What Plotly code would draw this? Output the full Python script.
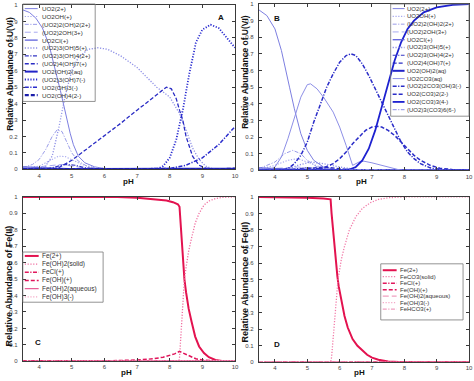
import plotly.graph_objects as go

W, H = 474, 381

# ---------------- data ----------------
ph_ticks = [4, 5, 6, 7, 8, 9, 10]
ph_tick_text = ["4", "5", "6", "7", "8", "9", "10"]
ab_ticks = [0, 0.1, 0.2, 0.3, 0.4, 0.5, 0.6, 0.7, 0.8, 0.9, 1]
ab_tick_text = ["0", "0.1", "0.2", "0.3", "0.4", "0.5", "0.6", "0.7", "0.8", "0.9", "1"]

# Panel A : U(VI), no carbonate
a_names = ["UO2(2+)", "UO2OH(+)", "(UO2)2(OH)2(2+)", "(UO2)2OH(3+)", "UO2Cl(+)",
           "(UO2)3(OH)5(+)", "(UO2)3(OH)4(2+)", "(UO2)4(OH)7(+)", "UO2(OH)2(aq)",
           "(UO2)3(OH)7(-)", "UO2(OH)3(-)", "UO2(OH)4(2-)"]
a_uo2 = ([3.5, 3.7, 3.9, 4.1, 4.3, 4.45, 4.55, 4.65, 4.75, 4.85, 4.95, 5.05, 5.2, 5.4, 5.7, 6.0, 6.5, 10],
         [0.97, 0.955, 0.92, 0.86, 0.76, 0.65, 0.56, 0.48, 0.39, 0.3, 0.22, 0.15, 0.08, 0.04, 0.015, 0.005, 0, 0])
a_uo2oh = ([3.5, 4.0, 4.3, 4.6, 4.8, 5.0, 5.3, 5.7, 6.5, 10],
           [0.005, 0.02, 0.05, 0.08, 0.078, 0.06, 0.03, 0.01, 0, 0])
a_22 = ([3.5, 3.8, 4.0, 4.2, 4.4, 4.55, 4.7, 4.85, 5.0, 5.2, 5.5, 6.0, 10],
        [0.01, 0.03, 0.06, 0.12, 0.2, 0.24, 0.23, 0.17, 0.1, 0.05, 0.015, 0, 0])
a_21 = ([3.5, 4.3, 4.7, 5.0, 5.5, 6.0, 10],
        [0.005, 0.02, 0.03, 0.02, 0.005, 0, 0])
a_cl = ([3.5, 4.0, 4.5, 5.0, 5.5, 10],
        [0.015, 0.012, 0.007, 0.002, 0, 0])
a_35 = ([3.5, 4.0, 4.2, 4.4, 4.6, 4.8, 5.0, 5.2, 5.5, 5.8, 6.1, 6.5, 7.0, 7.6, 8.0, 8.3, 8.5, 8.7, 8.9, 9.1, 9.3, 9.5, 10],
        [0, 0.005, 0.02, 0.08, 0.25, 0.45, 0.6, 0.68, 0.73, 0.74, 0.73, 0.69, 0.62, 0.5, 0.44, 0.34, 0.24, 0.13, 0.06, 0.02, 0.005, 0, 0])
a_34 = ([3.5, 4.2, 4.5, 4.8, 5.1, 5.4, 6.0, 10],
        [0, 0, 0.015, 0.03, 0.025, 0.01, 0, 0])
a_47 = ([3.5, 4.4, 4.6, 4.8, 5.0, 5.2, 5.5, 6.0, 6.5, 7.0, 7.4, 7.7, 7.9, 8.05, 8.2, 8.3, 8.4, 8.5, 8.7, 8.9, 9.1, 9.4, 10],
        [0, 0, 0.01, 0.03, 0.055, 0.085, 0.13, 0.2, 0.28, 0.36, 0.42, 0.47, 0.5, 0.49, 0.43, 0.36, 0.3, 0.2, 0.08, 0.025, 0.008, 0, 0])
a_oh2 = ([3.5, 5.0, 8.0, 10],
         [0, 0.002, 0.004, 0.003])
a_37 = ([3.5, 7.6, 7.8, 8.0, 8.2, 8.4, 8.6, 8.8, 9.0, 9.25, 9.5, 9.75, 10],
        [0, 0, 0.02, 0.07, 0.18, 0.36, 0.58, 0.77, 0.85, 0.88, 0.86, 0.8, 0.74])
a_oh3 = ([3.5, 8.0, 8.5, 9.0, 9.5, 10],
         [0, 0.005, 0.025, 0.07, 0.15, 0.26])
a_oh4 = ([3.5, 9.5, 10],
         [0, 0, 0.005])

# Panel B : U(VI), with carbonate
b_names = ["UO2(2+)", "UO2OH(+)", "(UO2)2(OH)2(2+)", "(UO2)2OH(3+)", "UO2Cl(+)",
           "(UO2)3(OH)5(+)", "(UO2)3(OH)4(2+)", "(UO2)4(OH)7(+)", "UO2(OH)2(aq)",
           "UO2CO3(aq)", "(UO2)2CO3(OH)3(-)", "UO2(CO3)2(2-)", "UO2(CO3)3(4-)",
           "(UO2)3(CO3)6(6-)"]
b_uo2 = ([3.5, 3.75, 4.0, 4.2, 4.45, 4.6, 4.8, 5.0, 5.2, 5.5, 6.0, 10],
         [0.965, 0.93, 0.85, 0.72, 0.5, 0.37, 0.22, 0.12, 0.06, 0.02, 0, 0])
b_uo2oh = ([3.5, 4.0, 4.4, 4.7, 5.0, 5.4, 6.0, 10],
           [0.005, 0.03, 0.06, 0.07, 0.05, 0.02, 0, 0])
b_22 = ([3.5, 4.0, 4.3, 4.55, 4.8, 5.0, 5.3, 5.7, 6.0, 10],
        [0.01, 0.05, 0.1, 0.12, 0.1, 0.06, 0.02, 0.005, 0, 0])
b_21 = ([3.5, 4.3, 4.7, 5.2, 6.0, 10],
        [0.005, 0.015, 0.02, 0.01, 0, 0])
b_cl = ([3.5, 4.0, 4.5, 5.0, 5.5, 10],
        [0.015, 0.012, 0.006, 0.002, 0, 0])
b_35 = ([3.5, 4.3, 4.7, 5.1, 5.5, 6.0, 6.5, 7.0, 10],
        [0, 0, 0.03, 0.05, 0.04, 0.02, 0.005, 0, 0])
b_34 = ([3.5, 4.3, 4.7, 5.0, 5.5, 6.0, 10],
        [0, 0, 0.01, 0.015, 0.008, 0, 0])
b_47 = ([3.5, 4.5, 5.0, 5.5, 6.0, 6.5, 10],
        [0, 0, 0.01, 0.02, 0.01, 0, 0])
b_oh2 = ([3.5, 6.0, 10],
         [0, 0.002, 0.001])
b_co3 = ([3.5, 3.8, 4.0, 4.2, 4.4, 4.6, 4.8, 5.0, 5.1, 5.3, 5.5, 5.8, 6.0, 6.2, 6.4, 6.6, 6.75, 7.0, 7.5, 7.9, 10],
         [0, 0, 0.02, 0.08, 0.19, 0.32, 0.44, 0.515, 0.52, 0.49, 0.44, 0.35, 0.26, 0.15, 0.03, 0.05, 0.055, 0.045, 0.02, 0, 0])
b_2co3 = ([3.5, 4.2, 4.4, 4.6, 4.8, 5.0, 5.2, 5.4, 5.6, 5.8, 6.0, 6.2, 6.35, 6.5, 6.7, 6.9, 7.1, 7.3, 7.5, 7.7, 7.9, 8.1, 8.3, 8.5, 8.8, 9.2, 10],
          [0, 0, 0.01, 0.04, 0.09, 0.17, 0.29, 0.4, 0.5, 0.58, 0.65, 0.69, 0.7, 0.69, 0.64, 0.57, 0.49, 0.4, 0.32, 0.24, 0.17, 0.11, 0.07, 0.04, 0.015, 0.003, 0])
b_co3_2 = ([3.5, 5.2, 5.5, 5.8, 6.0, 6.2, 6.4, 6.6, 6.8, 7.0, 7.15, 7.3, 7.5, 7.7, 7.9, 8.1, 8.3, 8.5, 8.8, 9.1, 9.5, 10],
           [0, 0, 0.015, 0.04, 0.07, 0.11, 0.16, 0.2, 0.24, 0.26, 0.265, 0.26, 0.24, 0.21, 0.17, 0.13, 0.09, 0.06, 0.03, 0.013, 0.004, 0])
b_co3_3 = ([3.5, 6.0, 6.3, 6.5, 6.7, 6.9, 7.1, 7.3, 7.5, 7.7, 7.9, 8.1, 8.3, 8.6, 9.0, 9.5, 10],
           [0, 0, 0.005, 0.02, 0.06, 0.13, 0.24, 0.38, 0.52, 0.66, 0.77, 0.85, 0.9, 0.95, 0.98, 0.995, 1.0])
b_3co3_6 = ([3.5, 6.0, 6.8, 7.5, 10],
            [0, 0, 0.005, 0.002, 0])

# Panel C : Fe(II), no carbonate
c_names = ["Fe(2+)", "Fe(OH)2(solid)", "FeCl(+)", "Fe(OH)(+)", "Fe(OH)2(aqueous)", "Fe(OH)3(-)"]
c_fe = ([3.5, 6.4, 7.0, 7.5, 7.9, 8.1, 8.25, 8.3, 8.33, 8.36, 8.4, 8.45, 8.5, 8.58, 8.67, 8.78, 8.9, 9.05, 9.2, 9.4, 9.6, 10],
        [1, 1, 0.995, 0.988, 0.978, 0.968, 0.955, 0.94, 0.85, 0.72, 0.6, 0.5, 0.42, 0.32, 0.24, 0.15, 0.09, 0.05, 0.025, 0.008, 0.002, 0])
c_feoh2s = ([3.5, 8.28, 8.3, 8.33, 8.36, 8.4, 8.45, 8.5, 8.58, 8.67, 8.78, 8.9, 9.05, 9.2, 9.4, 9.6, 10],
            [0, 0, 0.02, 0.12, 0.27, 0.4, 0.5, 0.57, 0.67, 0.75, 0.84, 0.9, 0.95, 0.975, 0.99, 0.997, 1])
c_fecl = ([3.5, 8.3, 8.6, 10],
          [0.003, 0.003, 0, 0])
c_feoh = ([3.5, 6.0, 7.0, 7.5, 7.8, 8.0, 8.15, 8.3, 8.45, 8.6, 8.8, 9.0, 9.3, 9.6, 10],
          [0, 0.002, 0.008, 0.015, 0.025, 0.035, 0.045, 0.06, 0.045, 0.03, 0.015, 0.008, 0.003, 0, 0])
c_feoh2aq = ([3.5, 8.0, 10],
             [0, 0.001, 0.004])
c_feoh3 = ([3.5, 9.0, 10],
           [0, 0, 0.002])

# Panel D : Fe(II), with carbonate
d_names = ["Fe(2+)", "FeCO3(solid)", "FeCl(+)", "Fe(OH)(+)", "Fe(OH)2(aqueous)", "Fe(OH)3(-)", "FeHCO3(+)"]
d_fe = ([3.5, 4.5, 5.0, 5.5, 5.72, 5.75, 5.8, 5.86, 5.93, 5.97, 6.05, 6.15, 6.25, 6.4, 6.55, 6.7, 6.85, 7.0, 7.2, 7.5, 8.0, 10],
        [1, 0.998, 0.995, 0.99, 0.985, 0.9, 0.78, 0.65, 0.52, 0.46, 0.37, 0.28, 0.21, 0.14, 0.1, 0.075, 0.045, 0.028, 0.015, 0.005, 0, 0])
d_feco3 = ([3.5, 5.72, 5.75, 5.82, 5.88, 5.95, 6.05, 6.15, 6.3, 6.5, 6.7, 6.95, 7.2, 7.5, 8.0, 10],
           [0, 0, 0.03, 0.19, 0.35, 0.5, 0.62, 0.7, 0.8, 0.88, 0.93, 0.965, 0.985, 0.995, 1, 1])
d_fecl = ([3.5, 5.8, 6.2, 10],
          [0.003, 0.003, 0, 0])
d_feoh = ([3.5, 5.8, 6.5, 10],
          [0, 0.001, 0, 0])
d_feoh2aq = ([3.5, 10],
             [0, 0])
d_feoh3 = ([3.5, 10],
           [0, 0])
d_fehco3 = ([3.5, 5.8, 6.5, 10],
            [0.002, 0.003, 0, 0])

a_curves = [a_uo2, a_uo2oh, a_22, a_21, a_cl, a_35, a_34, a_47, a_oh2, a_37, a_oh3, a_oh4]
b_curves = [b_uo2, b_uo2oh, b_22, b_21, b_cl, b_35, b_34, b_47, b_oh2, b_co3, b_2co3, b_co3_2, b_co3_3, b_3co3_6]
c_curves = [c_fe, c_feoh2s, c_fecl, c_feoh, c_feoh2aq, c_feoh3]
d_curves = [d_fe, d_feco3, d_fecl, d_feoh, d_feoh2aq, d_feoh3, d_fehco3]

# ---------------- styles ----------------
DOT = "1.2px,1.6px"
DASH = "4px,2px"
DDOT = "4px,1.5px,1.2px,1.5px"
LDASH = "6px,3px"
SOLID = "solid"

u_styles = {
    "UO2(2+)": ("#7d7fe0", SOLID, 1.0),
    "UO2OH(+)": ("#a4a6ee", DOT, 1.1),
    "(UO2)2(OH)2(2+)": ("#9a9ce8", DDOT, 1.0),
    "(UO2)2OH(3+)": ("#a8aaf0", LDASH, 1.0),
    "UO2Cl(+)": ("#5f62dc", SOLID, 1.3),
    "(UO2)3(OH)5(+)": ("#8d8fe6", DOT, 1.3),
    "(UO2)3(OH)4(2+)": ("#3436c4", DDOT, 1.2),
    "(UO2)4(OH)7(+)": ("#2a2cc4", DASH, 1.3),
    "UO2(OH)2(aq)": ("#2224c8", SOLID, 2.0),
    "(UO2)3(OH)7(-)": ("#2a2cd0", DOT, 1.8),
    "UO2(OH)3(-)": ("#2a2ccc", DDOT, 1.5),
    "UO2(OH)4(2-)": ("#1a1caa", DASH, 2.2),
    "UO2CO3(aq)": ("#8d8fe6", SOLID, 1.0),
    "(UO2)2CO3(OH)3(-)": ("#2a2cc8", DDOT, 1.5),
    "UO2(CO3)2(2-)": ("#2a2cc8", DASH, 1.5),
    "UO2(CO3)3(4-)": ("#1e22d0", SOLID, 1.8),
    "(UO2)3(CO3)6(6-)": ("#8d8fe6", DDOT, 1.0),
}
fe_styles = {
    "Fe(2+)": ("#e3124f", SOLID, 2.0),
    "Fe(OH)2(solid)": ("#f06fa0", DOT, 1.3),
    "FeCO3(solid)": ("#f27aa8", DOT, 1.3),
    "FeCl(+)": ("#e2185c", DDOT, 1.5),
    "Fe(OH)(+)": ("#e0145a", DASH, 1.5),
    "Fe(OH)2(aqueous)": ("#e85a94", SOLID, 1.2),
    "Fe(OH)3(-)": ("#f4a8c6", DOT, 1.2),
    "FeHCO3(+)": ("#f0a0c0", DDOT, 1.2),
}
d_style_override = {"Fe(OH)2(aqueous)": ("#f0a0c0", LDASH, 1.2)}

# ---------------- layout helpers ----------------
def pxx(p):
    return p / W

def pxy(p):
    return 1 - p / H

panels = [
    ("", 23, 237, 2, 169),
    ("2", 261, 473, 1, 170),
    ("3", 23, 237, 197, 364),
    ("4", 261, 473, 197, 365),
]

fig = go.Figure()

def add_curves(names, curves, styles, suffix, override=None):
    for name, (xs, ys) in zip(names, curves):
        st = styles[name]
        if override and name in override:
            st = override[name]
        fig.add_trace(go.Scatter(
            x=xs, y=ys, mode="lines", name=name, showlegend=False,
            line=dict(color=st[0], dash=st[1], width=st[2]),
            xaxis="x" + suffix, yaxis="y" + suffix, hoverinfo="skip"))

add_curves(a_names, a_curves, u_styles, "")
add_curves(b_names, b_curves, u_styles, "2")
add_curves(c_names, c_curves, fe_styles, "3")
add_curves(d_names, d_curves, fe_styles, "4", d_style_override)

FONT = "Liberation Sans, Arial, sans-serif"
AX = "#3a3a3a"
layout = dict(width=W, height=H, margin=dict(l=0, r=0, t=0, b=0),
              paper_bgcolor="white", plot_bgcolor="white", showlegend=False)
for suf, x0, x1, yt, yb in panels:
    layout["xaxis" + suf] = dict(
        domain=[pxx(x0), pxx(x1)], range=[3.5, 10], anchor="y" + suf,
        tickvals=ph_ticks, ticktext=ph_tick_text, ticks="inside", ticklen=3,
        tickcolor=AX, showline=True, linecolor=AX, linewidth=1, mirror="ticks",
        showgrid=False, zeroline=False, tickfont=dict(size=6, color="#444", family=FONT))
    layout["yaxis" + suf] = dict(
        domain=[pxy(yb), pxy(yt)], range=[0, 1], anchor="x" + suf,
        tickvals=ab_ticks, ticktext=ab_tick_text, ticks="inside", ticklen=3,
        tickcolor=AX, showline=True, linecolor=AX, linewidth=1, mirror="ticks",
        showgrid=False, zeroline=False, ticklabelstandoff=3,
        tickfont=dict(size=6, color="#444", family=FONT))
fig.update_layout(**layout)

annotations = []
shapes = []

def text_at(x, y, t, size, bold=False, angle=0, xanchor="center", color="#111"):
    annotations.append(dict(
        x=pxx(x), y=pxy(y), xref="paper", yref="paper", showarrow=False,
        text="<b>%s</b>" % t if bold else t, textangle=angle,
        xanchor=xanchor, yanchor="middle",
        font=dict(size=size, color=color, family=FONT)))

# axis titles
text_at(130, 181, "pH", 8, bold=True)
text_at(365, 181, "pH", 8, bold=True)
text_at(128, 375, "pH", 8, bold=True)
text_at(363, 375, "pH", 8, bold=True)
text_at(10, 72, "Relative Abundance of U(VI)", 8.5, bold=True, angle=-90)
text_at(247, 70, "Relative Abundance of U(VI)", 8.5, bold=True, angle=-90)
text_at(10, 287, "Relative Abundance of Fe(II)", 9, bold=True, angle=-90)
text_at(247, 283, "Relative Abundance of Fe(II)", 9, bold=True, angle=-90)
# panel letters
text_at(223, 15, "A", 8, bold=True)
text_at(279, 16, "B", 8, bold=True)
text_at(38, 345, "C", 8, bold=True)
text_at(279, 347, "D", 8, bold=True)

def legend(names, styles, box, row0, row_h, lx0, lx1, tx, fsize, override=None):
    x0, y0, x1, y1 = box
    shapes.append(dict(type="rect", xref="paper", yref="paper",
                       x0=pxx(x0), x1=pxx(x1), y0=pxy(y1), y1=pxy(y0),
                       line=dict(color="#777", width=0.8), fillcolor="rgba(0,0,0,0)", layer="above"))
    for i, name in enumerate(names):
        st = styles[name]
        if override and name in override:
            st = override[name]
        yc = row0 + i * row_h
        shapes.append(dict(type="line", xref="paper", yref="paper",
                           x0=pxx(lx0), x1=pxx(lx1), y0=pxy(yc), y1=pxy(yc),
                           line=dict(color=st[0], dash=st[1], width=st[2]), layer="above"))
        text_at(tx, yc, name, fsize, xanchor="left", color="#333")

legend(a_names, u_styles, (23, 1, 96, 100), 5.7, 8.0, 25, 38, 40, 6.2)
legend(b_names, u_styles, (394, 1, 473, 115), 5.7, 7.9, 396, 408, 408, 6.0)
legend(c_names, fe_styles, (23, 253, 104, 304), 257, 8.3, 25, 39, 40, 6.5)
legend(d_names, fe_styles, (384, 265, 467, 322), 271.5, 6.6, 386, 400, 401, 6.0, d_style_override)

fig.update_layout(annotations=annotations, shapes=shapes)
fig.write_html("out.html", config={"displayModeBar": False},
               post_script="document.body.style.margin='0px';document.body.style.padding='0px';")
